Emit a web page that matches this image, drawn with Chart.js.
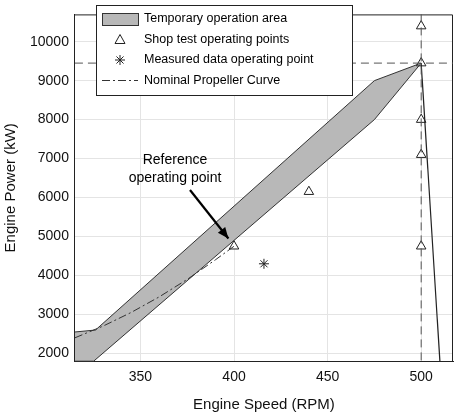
<!DOCTYPE html>
<html><head><meta charset="utf-8">
<script src="https://cdn.jsdelivr.net/npm/chart.js@4"></script>
<style>body{margin:0;background:#fff}</style></head>
<body><canvas id="c" width="474" height="418"></canvas>
<script>
const xTicks=[350,400,450,500];
const yTicks=[2000,3000,4000,5000,6000,7000,8000,9000,10000];
const areaRPM=[315,326,475,500,475,325,315];
const areaKW=[2550,2600,9000,9450,8000,1800,1800];
const shopRPM=[400,440,500,500,500,500,500];
const shopKW=[4750,6150,10400,9450,8000,7100,4750];
const measRPM=[416];
const measKW=[4300];
const propRPM=[315,330,345,360,375,390,400];
const propKW=[2400,2700,3050,3450,3900,4400,4750];
const limRPM=[500,510];
const limKW=[9450,1800];
const nominalRPM=500, nominalKW=9450;
const legendLabels=['Temporary operation area','Shop test operating points','Measured data operating point','Nominal Propeller Curve'];
const annotText=['Reference','operating point'];

const z=(a,b)=>a.map((v,i)=>({x:v,y:b[i]}));
const FONT='"Liberation Sans", Arial, sans-serif';

const areaFill={id:'areaFill',beforeDatasetsDraw(ch){
  const {ctx,scales:{x,y},chartArea:ca}=ch;
  ctx.save();ctx.beginPath();ctx.rect(ca.left,ca.top,ca.right-ca.left,ca.bottom-ca.top);ctx.clip();
  ctx.beginPath();
  areaRPM.forEach((v,i)=>{const px=x.getPixelForValue(v),py=y.getPixelForValue(areaKW[i]);i?ctx.lineTo(px,py):ctx.moveTo(px,py);});
  ctx.closePath();ctx.fillStyle='#b8b8b8';ctx.fill();ctx.restore();
}};

const overlay={id:'overlay',afterDatasetsDraw(ch){
  const {ctx,scales:{x,y},chartArea:ca}=ch;
  ctx.save();
  ctx.strokeStyle='#222';ctx.lineWidth=1;
  ctx.beginPath();ctx.moveTo(ca.left,ca.top+.5);ctx.lineTo(ca.right-.5,ca.top+.5);ctx.lineTo(ca.right-.5,ca.bottom);ctx.stroke();
  ctx.strokeStyle='#555';ctx.setLineDash([8,5]);
  ctx.beginPath();ctx.moveTo(ca.left,y.getPixelForValue(nominalKW));ctx.lineTo(ca.right,y.getPixelForValue(nominalKW));ctx.stroke();
  ctx.beginPath();ctx.moveTo(x.getPixelForValue(nominalRPM),ca.top);ctx.lineTo(x.getPixelForValue(nominalRPM),ca.bottom);ctx.stroke();
  ctx.setLineDash([]);
  ctx.fillStyle='#000';ctx.font='14px '+FONT;ctx.textAlign='center';ctx.textBaseline='middle';
  ctx.fillText(annotText[0],175,160);ctx.fillText(annotText[1],175,178);
  const x1=190,y1=190,x2=x.getPixelForValue(397),y2=y.getPixelForValue(4950);
  ctx.strokeStyle='#000';ctx.lineWidth=2.2;ctx.beginPath();ctx.moveTo(x1,y1);ctx.lineTo(x2,y2);ctx.stroke();
  const ang=Math.atan2(y2-y1,x2-x1);
  ctx.beginPath();ctx.moveTo(x2,y2);
  ctx.lineTo(x2-12*Math.cos(ang-0.4),y2-12*Math.sin(ang-0.4));
  ctx.lineTo(x2-12*Math.cos(ang+0.4),y2-12*Math.sin(ang+0.4));ctx.closePath();ctx.fill();
  const lx=96,ly=5,lw=256,lh=90;
  ctx.fillStyle='#fff';ctx.fillRect(lx,ly,lw,lh);
  ctx.strokeStyle='#222';ctx.lineWidth=1;ctx.strokeRect(lx+.5,ly+.5,lw,lh);
  ctx.font='12.5px '+FONT;ctx.textAlign='left';
  legendLabels.forEach((t,i)=>{
    const cy=ly+14+i*20.5;
    ctx.fillStyle='#000';ctx.fillText(t,lx+48,cy);
    if(i===0){ctx.fillStyle='#b8b8b8';ctx.fillRect(lx+6,cy-6,36,12);ctx.strokeStyle='#333';ctx.strokeRect(lx+6.5,cy-5.5,36,12);}
    if(i===1){ctx.strokeStyle='#222';ctx.beginPath();ctx.moveTo(lx+24,cy-5);ctx.lineTo(lx+29,cy+4);ctx.lineTo(lx+19,cy+4);ctx.closePath();ctx.stroke();}
    if(i===2){ctx.strokeStyle='#222';for(let k=0;k<4;k++){const a=k*Math.PI/4;ctx.beginPath();ctx.moveTo(lx+24-5*Math.cos(a),cy-5*Math.sin(a));ctx.lineTo(lx+24+5*Math.cos(a),cy+5*Math.sin(a));ctx.stroke();}}
    if(i===3){ctx.strokeStyle='#333';ctx.setLineDash([8,3,2,3]);ctx.beginPath();ctx.moveTo(lx+6,cy);ctx.lineTo(lx+42,cy);ctx.stroke();ctx.setLineDash([]);}
  });
  ctx.restore();
}};

new Chart(document.getElementById('c'),{
  type:'scatter',
  data:{datasets:[
    {data:z(areaRPM,areaKW),showLine:true,borderColor:'#333',borderWidth:1,pointRadius:0,tension:0},
    {data:z(propRPM,propKW),showLine:true,borderColor:'#333',borderWidth:1,borderDash:[8,3,2,3],pointRadius:0},
    {data:z(limRPM,limKW),showLine:true,borderColor:'#222',borderWidth:1.2,pointRadius:0},
    {data:z(shopRPM,shopKW),pointStyle:'triangle',pointRadius:5.5,backgroundColor:'#fff',borderColor:'#222',borderWidth:1},
    {data:z(measRPM,measKW),pointStyle:'star',pointRadius:5,borderColor:'#222',borderWidth:1}
  ]},
  options:{responsive:false,animation:false,clip:true,
    layout:{padding:{top:0,right:21,left:0,bottom:0}},
    plugins:{legend:{display:false},tooltip:{enabled:false}},
    scales:{
      x:{type:'linear',min:315,max:517,afterBuildTicks:a=>{a.ticks=xTicks.map(v=>({value:v}))},
        grid:{color:'#e4e4e4',drawTicks:false},border:{color:'#222'},
        ticks:{color:'#111',font:{size:14,family:FONT},padding:8,callback:v=>String(v)},
        title:{display:true,text:'Engine Speed (RPM)',color:'#111',font:{size:15,family:FONT},padding:{top:2,bottom:4}}},
      y:{type:'linear',min:1800,max:10700,afterBuildTicks:a=>{a.ticks=yTicks.map(v=>({value:v}))},
        grid:{color:'#e4e4e4',drawTicks:false},border:{color:'#222'},
        ticks:{color:'#111',font:{size:14,family:FONT},padding:6,callback:v=>String(v)},
        title:{display:true,text:'Engine Power (kW)',color:'#111',font:{size:15,family:FONT},padding:{top:2,bottom:4}}}
    }},
  plugins:[areaFill,overlay]
});
</script></body></html>
